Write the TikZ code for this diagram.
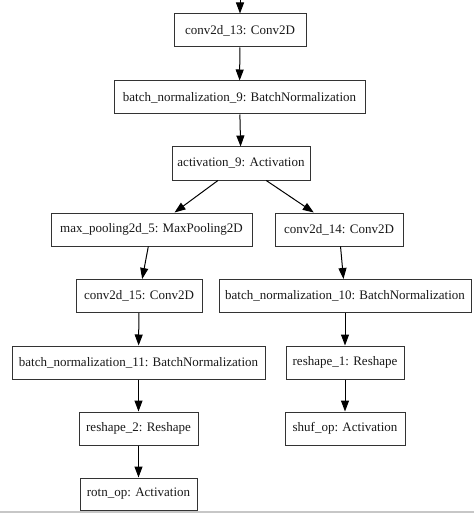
\documentclass[tikz,border=0pt]{standalone}
\usepackage{fontspec}
\setmainfont{Liberation Serif}
\usetikzlibrary{arrows.meta}
\begin{document}
\begin{tikzpicture}[x=1pt,y=-1pt,
  layer/.style={draw=black!80, line width=1pt, fill=white, inner sep=0pt,
    minimum height=33pt, font=\fontsize{13}{15}\selectfont, text=black!90},
  edge/.style={draw=black, line width=1pt, -{Triangle[length=11pt,width=8pt]}}]
\useasboundingbox (0,0) rectangle (474,513);
\fill[black!22] (0,510.5) rectangle (474,513);
\coordinate (top) at (240,0);
\node[layer, minimum width=132pt] (c13) at (240,30.5) {conv2d\_13: Conv2D};
\node[layer, minimum width=251pt] (bn9) at (239.5,97.5) {batch\_normalization\_9: BatchNormalization};
\node[layer, minimum width=138pt] (act9) at (241,163.5) {activation\_9: Activation};
\node[layer, minimum width=201pt] (mp5) at (151.5,229.5) {max\_pooling2d\_5: MaxPooling2D};
\node[layer, minimum width=128pt] (c14) at (339,229.5) {conv2d\_14: Conv2D};
\node[layer, minimum width=126pt] (c15) at (139,296) {conv2d\_15: Conv2D};
\node[layer, minimum width=252pt] (bn10) at (345,296) {batch\_normalization\_10: BatchNormalization};
\node[layer, minimum width=253pt] (bn11) at (138.5,362.5) {batch\_normalization\_11: BatchNormalization};
\node[layer, minimum width=118pt] (rs1) at (345,362.5) {reshape\_1: Reshape};
\node[layer, minimum width=119pt] (rs2) at (138.5,428.5) {reshape\_2: Reshape};
\node[layer, minimum width=120pt] (shuf) at (345,428.5) {shuf\_op: Activation};
\node[layer, minimum width=117pt, minimum height=32pt] (rotn) at (138.5,494) {rotn\_op: Activation};
\draw[edge] (top) -- (c13);
\draw[edge] (c13) -- (bn9);
\draw[edge] (bn9) -- (act9);
\draw[edge] (act9) -- (mp5);
\draw[edge] (act9) -- (c14);
\draw[edge] (mp5) -- (c15);
\draw[edge] (c14) -- (bn10);
\draw[edge] (c15) -- (bn11);
\draw[edge] (bn10) -- (rs1);
\draw[edge] (bn11) -- (rs2);
\draw[edge] (rs1) -- (shuf);
\draw[edge] (rs2) -- (rotn);
\end{tikzpicture}
\end{document}
